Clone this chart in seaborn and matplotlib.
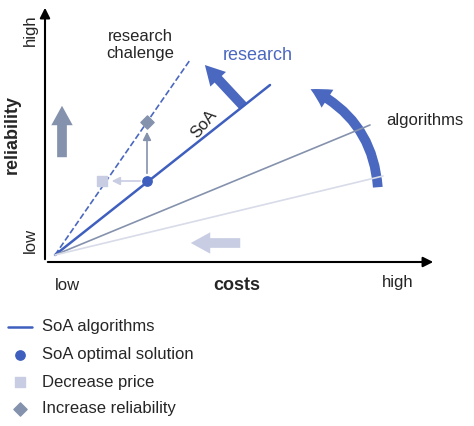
import matplotlib
matplotlib.use("Agg")
import matplotlib.pyplot as plt
import seaborn as sns
import pandas as pd
from matplotlib.patches import FancyArrowPatch

sns.set_theme(style="white")
plt.rcParams['font.family'] = ['Liberation Sans', 'DejaVu Sans']

# diagram coordinates (pixel-like units, y downward)
origin = (55, 255)
line_names = ["challenge", "SoA", "alg2", "alg3"]
line_end_x = [190, 270, 370, 383]
line_end_y = [60, 85, 125, 176]
line_colors = ["#4a68c0", "#3f5fbf", "#8592ad", "#d8dbe8"]
line_styles = ["--", "-", "-", "-"]
line_widths = [1.2, 1.8, 1.2, 1.2]

pt_x = [147, 102, 147]
pt_y = [181, 181, 122]
pt_kind = ["SoA optimal solution", "Decrease price", "Increase reliability"]
pt_colors = ["#3f5fbf", "#c8cde3", "#8592ad"]
pt_markers = ["o", "s", "D"]

fig = plt.figure(figsize=(4.74, 4.26), dpi=100)
ax = fig.add_axes([0, 0, 1, 1])
ax.set_xlim(0, 474)
ax.set_ylim(426, 0)
ax.axis("off")

for n, ex, ey, c, ls, lw in zip(line_names, line_end_x, line_end_y, line_colors, line_styles, line_widths):
    df = pd.DataFrame({"x": [origin[0], ex], "y": [origin[1], ey]})
    sns.lineplot(data=df, x="x", y="y", ax=ax, color=c, linestyle=ls, linewidth=lw, sort=False)

# axes arrows
ax.annotate("", xy=(436, 262), xytext=(45, 262), arrowprops=dict(arrowstyle="-|>", color="black", lw=1.5, mutation_scale=15))
ax.annotate("", xy=(45, 5), xytext=(45, 262), arrowprops=dict(arrowstyle="-|>", color="black", lw=1.5, mutation_scale=15))

# small thin arrows from point
ax.annotate("", xy=(109, 181), xytext=(143, 181), arrowprops=dict(arrowstyle="-|>", color="#c8cde3", lw=1.2))
ax.annotate("", xy=(147, 129), xytext=(147, 176), arrowprops=dict(arrowstyle="-|>", color="#8592ad", lw=1.2))

for x, y, c, m in zip(pt_x, pt_y, pt_colors, pt_markers):
    ax.scatter([x], [y], color=c, marker=m, s=45, zorder=5)

# thick arrows
def fat(p0, p1, color, rad=0.0, w=7):
    a = FancyArrowPatch(p0, p1, connectionstyle=f"arc3,rad={rad}",
                        arrowstyle=f"simple,head_width={w*2.2},head_length={w*2},tail_width={w}",
                        color=color, lw=0)
    ax.add_patch(a)

fat((62, 160), (62, 103), "#8592ad")
fat((245, 108), (203, 63), "#4a68c0")
fat((378, 190), (308, 88), "#4a68c0", rad=0.3)
fat((243, 243), (188, 243), "#c8cde3")

# texts
ax.text(258, 60, "research", color="#4a68c0", fontsize=13, ha="center")
ax.text(140, 45, "research\nchalenge", fontsize=12, ha="center", va="center", linespacing=1.1)
ax.text(204, 124, "SoA", fontsize=12, rotation=50, ha="center", va="center")
ax.text(425, 120, "algorithms", fontsize=12, ha="center", va="center")
ax.text(55, 285, "low", fontsize=12, ha="left", va="center")
ax.text(398, 282, "high", fontsize=12, ha="center", va="center")
ax.text(237, 286, "costs", fontsize=13, fontweight="bold", ha="center", va="center")
ax.text(30, 240, "low", fontsize=12, rotation=90, ha="center", va="center")
ax.text(30, 30, "high", fontsize=12, rotation=90, ha="center", va="center")
ax.text(12, 135, "reliability", fontsize=13, fontweight="bold", rotation=90, ha="center", va="center")

# legend
ax.plot([8, 32], [327, 327], color="#3f5fbf", lw=1.8)
ax.text(42, 327, "SoA algorithms", fontsize=12, va="center")
for i, (c, m, k) in enumerate(zip(pt_colors, pt_markers, pt_kind)):
    y = 355 + 27 * i
    ax.scatter([20], [y], color=c, marker=m, s=45)
    ax.text(42, y, k, fontsize=12, va="center")

fig.savefig("out.png", dpi=100)
